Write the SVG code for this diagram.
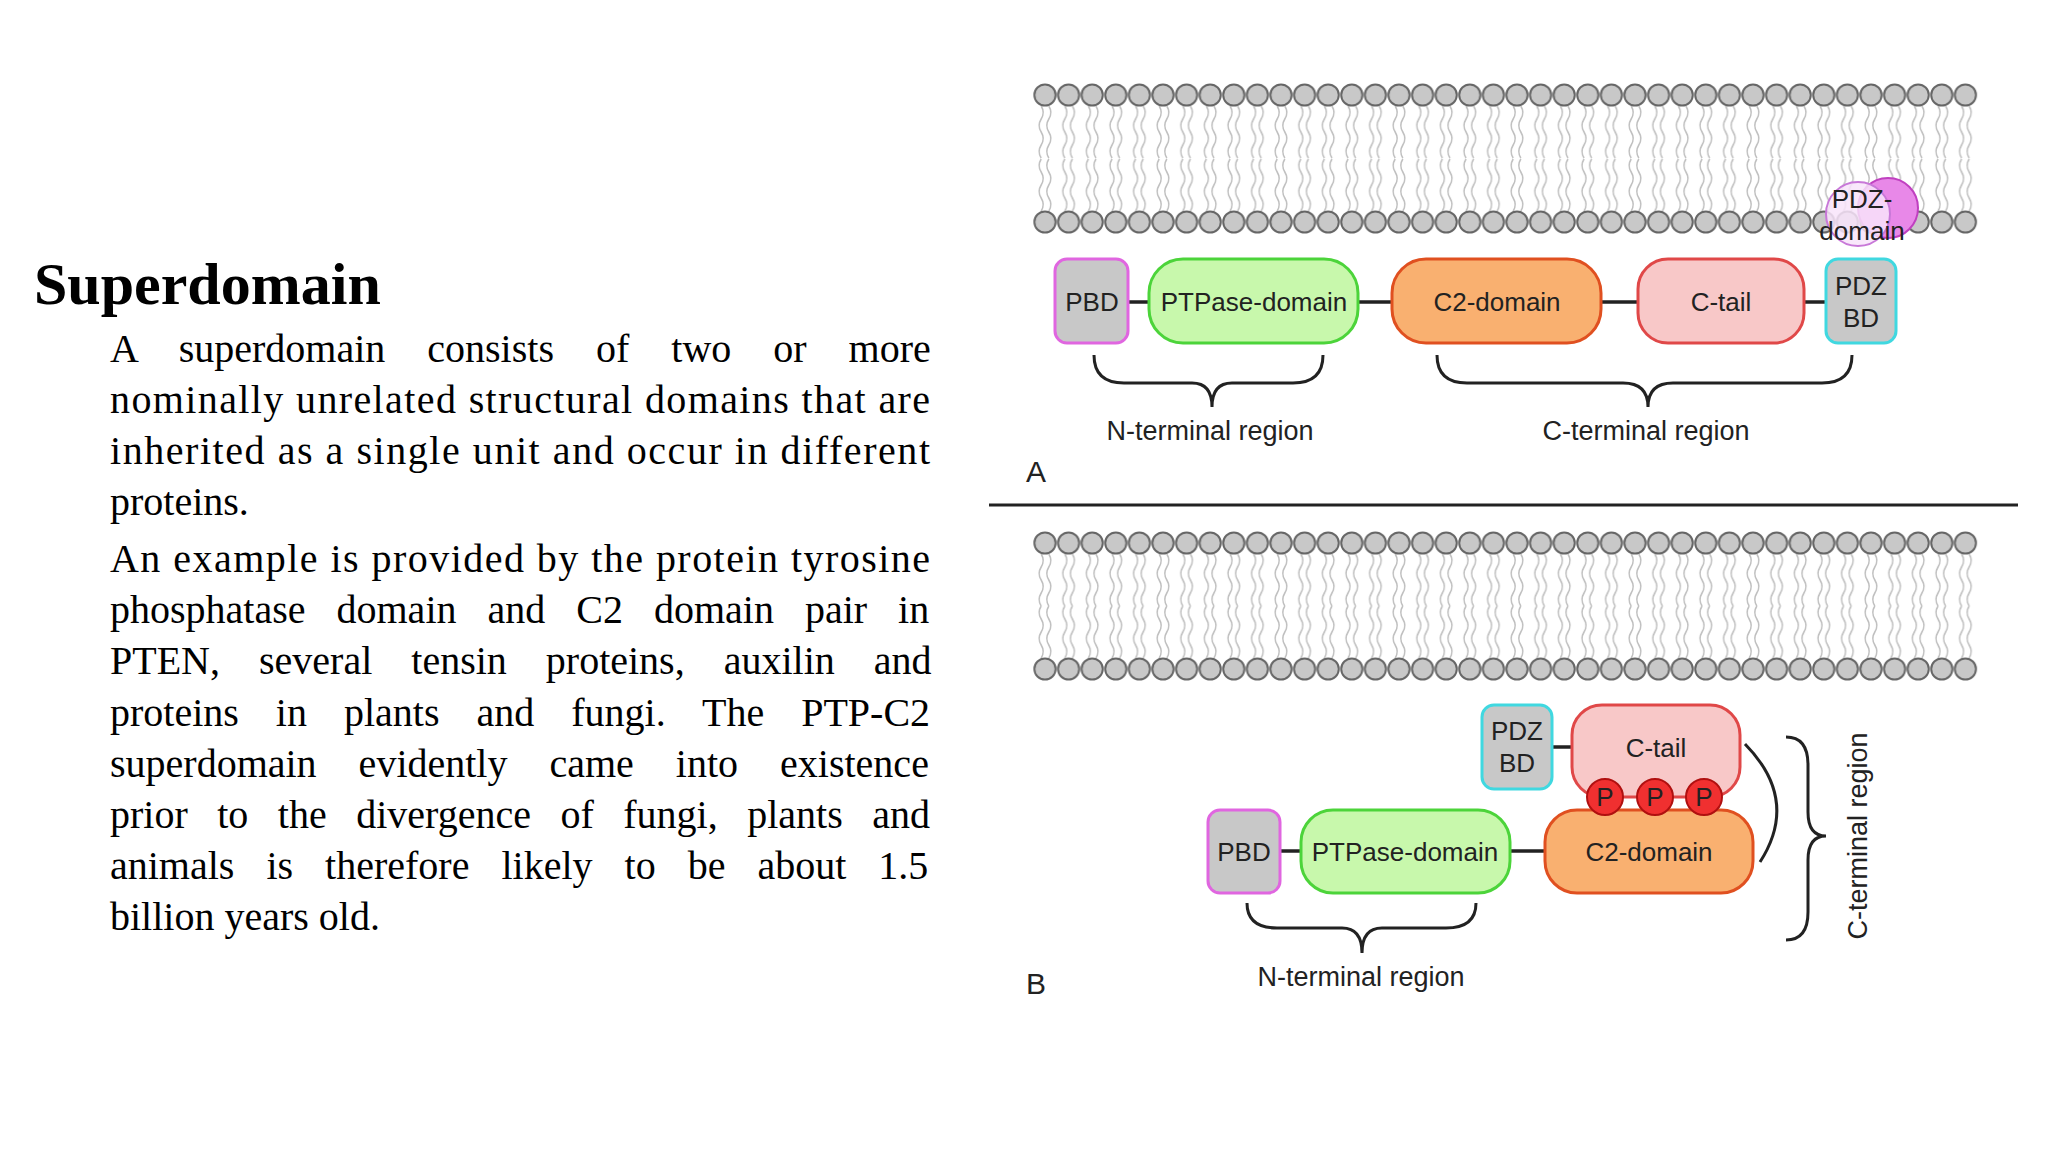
<svg xmlns="http://www.w3.org/2000/svg" width="2048" height="1152" viewBox="0 0 2048 1152">
<defs>
<style>
.body{font-family:"Liberation Serif","Times New Roman",serif;font-size:40px;fill:#000}
.lab{font-family:"Liberation Sans",Arial,sans-serif;font-size:26px;fill:#222;text-anchor:middle}
.reg{font-family:"Liberation Sans",Arial,sans-serif;font-size:27px;fill:#222;text-anchor:middle}
.brace{fill:none;stroke:#222;stroke-width:3}
.link{stroke:#222;stroke-width:3.5}
.gray{fill:#c8c8c8;stroke-width:3}
</style>
<pattern id="headsA" patternUnits="userSpaceOnUse" x="1033.2" y="0" width="23.6" height="1152">
<circle cx="11.8" cy="95" r="10.6" fill="#c8c8c8" stroke="#666" stroke-width="2"/>
<circle cx="11.8" cy="222" r="10.6" fill="#c8c8c8" stroke="#666" stroke-width="2"/>
<circle cx="11.8" cy="543" r="10.6" fill="#c8c8c8" stroke="#666" stroke-width="2"/>
<circle cx="11.8" cy="669" r="10.6" fill="#c8c8c8" stroke="#666" stroke-width="2"/>
</pattern>
<pattern id="tails" patternUnits="userSpaceOnUse" x="1033.2" y="0" width="23.6" height="1152">
<path d="M8,106 q4,6.5 0,13 t0,13 t0,13 t0,13 M15.6,106 q4,6.5 0,13 t0,13 t0,13 t0,13 M8,211 q4,-6.5 0,-13 t0,-13 t0,-13 t0,-13 M15.6,211 q4,-6.5 0,-13 t0,-13 t0,-13 t0,-13 M8,554 q4,6.5 0,13 t0,13 t0,13 t0,13 M15.6,554 q4,6.5 0,13 t0,13 t0,13 t0,13 M8,658 q4,-6.5 0,-13 t0,-13 t0,-13 t0,-13 M15.6,658 q4,-6.5 0,-13 t0,-13 t0,-13 t0,-13" fill="none" stroke="#bdbdbd" stroke-width="1.5"/>
</pattern>
</defs>
<rect width="2048" height="1152" fill="#fff"/>

<g id="text">
<text x="34" y="304" font-family="Liberation Serif,Times New Roman,serif" font-size="60" font-weight="bold">Superdomain</text>
<text class="body" x="110" y="362" word-spacing="32">A superdomain consists of two or more</text>
<text class="body" x="110" y="413" textLength="820" lengthAdjust="spacing">nominally unrelated structural domains that are</text>
<text class="body" x="110" y="464" textLength="820" lengthAdjust="spacing">inherited as a single unit and occur in different</text>
<text class="body" x="110" y="515">proteins.</text>
<text class="body" x="110" y="572" textLength="820" lengthAdjust="spacing">An example is provided by the protein tyrosine</text>
<text class="body" x="110" y="623" word-spacing="21">phosphatase domain and C2 domain pair in</text>
<text class="body" x="110" y="674" word-spacing="29">PTEN, several tensin proteins, auxilin and</text>
<text class="body" x="110" y="726" word-spacing="27">proteins in plants and fungi. The PTP-C2</text>
<text class="body" x="110" y="777" word-spacing="32">superdomain evidently came into existence</text>
<text class="body" x="110" y="828" word-spacing="19.5">prior to the divergence of fungi, plants and</text>
<text class="body" x="110" y="879" word-spacing="22">animals is therefore likely to be about 1.5</text>
<text class="body" x="110" y="930">billion years old.</text>
</g>

<g id="membranes">
<rect x="1033.2" y="106" width="944" height="105" fill="url(#tails)"/>
<rect x="1033.2" y="554" width="944" height="104" fill="url(#tails)"/>
<rect x="1033.2" y="82" width="944" height="26" fill="url(#headsA)"/>
<rect x="1033.2" y="209" width="944" height="26" fill="url(#headsA)"/>
<rect x="1033.2" y="530" width="944" height="26" fill="url(#headsA)"/>
<rect x="1033.2" y="656" width="944" height="26" fill="url(#headsA)"/>
</g>

<line x1="989" y1="505" x2="2018" y2="505" stroke="#222" stroke-width="3"/>

<g id="connectors">
<line class="link" x1="1128" y1="302" x2="1149" y2="302"/>
<line class="link" x1="1358" y1="302" x2="1392" y2="302"/>
<line class="link" x1="1601" y1="302" x2="1638" y2="302"/>
<line class="link" x1="1804" y1="302" x2="1826" y2="302"/>
<line class="link" x1="1280" y1="851" x2="1301" y2="851"/>
<line class="link" x1="1510" y1="851" x2="1545" y2="851"/>
<line class="link" x1="1552" y1="747" x2="1572" y2="747"/>
<path class="brace" d="M1745,744 Q1800,800 1760,862"/>
</g>

<g id="pdz-domain">
<circle cx="1888" cy="208" r="30" fill="#e888e8" stroke="#c040c0" stroke-width="2"/>
<circle cx="1858" cy="214" r="32" fill="#f8e4fa" stroke="#c878d8" stroke-width="2" fill-opacity="0.85"/>
<text class="lab" x="1862" y="208">PDZ-</text>
<text class="lab" x="1862" y="240">domain</text>
</g>

<g id="A-PBD"><rect class="gray" x="1055" y="259" width="73" height="84" rx="12" stroke="#e066e0"/><text class="lab" x="1092" y="311">PBD</text></g>
<g id="A-PTPase"><rect x="1149" y="259" width="209" height="84" rx="34" fill="#c8f8ac" stroke="#4cd43a" stroke-width="3"/><text class="lab" x="1254" y="311">PTPase-domain</text></g>
<g id="A-C2"><rect x="1392" y="259" width="209" height="84" rx="34" fill="#f9b070" stroke="#e05020" stroke-width="3"/><text class="lab" x="1497" y="311">C2-domain</text></g>
<g id="A-Ctail"><rect x="1638" y="259" width="166" height="84" rx="30" fill="#f8c8c8" stroke="#e04848" stroke-width="3"/><text class="lab" x="1721" y="311">C-tail</text></g>
<g id="A-PDZBD"><rect class="gray" x="1826" y="259" width="70" height="84" rx="12" stroke="#40d8e0"/><text class="lab" x="1861" y="295">PDZ</text><text class="lab" x="1861" y="327">BD</text></g>

<g id="A-braces">
<path class="brace" d="M1094,355 Q1094,383 1124,383 L1192,383 Q1212,383 1212,407 Q1212,383 1232,383 L1293,383 Q1323,383 1323,355"/>
<path class="brace" d="M1437,355 Q1437,383 1467,383 L1623,383 Q1648,383 1648,407 Q1648,383 1673,383 L1822,383 Q1852,383 1852,355"/>
<text class="reg" x="1210" y="440">N-terminal region</text>
<text class="reg" x="1646" y="440">C-terminal region</text>
<text x="1026" y="482" font-family="Liberation Sans,Arial,sans-serif" font-size="30" fill="#222">A</text>
</g>

<g id="B-PDZBD"><rect class="gray" x="1482" y="705" width="70" height="84" rx="12" stroke="#40d8e0"/><text class="lab" x="1517" y="740">PDZ</text><text class="lab" x="1517" y="772">BD</text></g>
<g id="B-Ctail"><rect x="1572" y="705" width="168" height="92" rx="30" fill="#f8c8c8" stroke="#e04848" stroke-width="3"/><text class="lab" x="1656" y="757">C-tail</text></g>
<g id="B-C2"><rect x="1545" y="810" width="208" height="83" rx="32" fill="#f9b070" stroke="#e05020" stroke-width="3"/><text class="lab" x="1649" y="861">C2-domain</text></g>
<g id="B-P">
<circle cx="1605" cy="797" r="18" fill="#f03030" stroke="#b01010" stroke-width="2"/><text class="lab" x="1605" y="806">P</text>
<circle cx="1655" cy="797" r="18" fill="#f03030" stroke="#b01010" stroke-width="2"/><text class="lab" x="1655" y="806">P</text>
<circle cx="1704" cy="797" r="18" fill="#f03030" stroke="#b01010" stroke-width="2"/><text class="lab" x="1704" y="806">P</text>
</g>
<g id="B-PTPase"><rect x="1301" y="810" width="209" height="83" rx="32" fill="#c8f8ac" stroke="#4cd43a" stroke-width="3"/><text class="lab" x="1405" y="861">PTPase-domain</text></g>
<g id="B-PBD"><rect class="gray" x="1208" y="810" width="72" height="83" rx="12" stroke="#e066e0"/><text class="lab" x="1244" y="861">PBD</text></g>

<g id="B-braces">
<path class="brace" d="M1247,903 Q1247,928 1277,928 L1342,928 Q1362,928 1362,953 Q1362,928 1382,928 L1446,928 Q1476,928 1476,903"/>
<path class="brace" d="M1786,737 Q1808,737 1808,765 L1808,812 Q1808,836 1826,836 Q1808,836 1808,860 L1808,912 Q1808,940 1786,940"/>
<text class="reg" x="1361" y="986">N-terminal region</text>
<text class="reg" transform="translate(1867,836) rotate(-90)">C-terminal region</text>
<text x="1026" y="994" font-family="Liberation Sans,Arial,sans-serif" font-size="30" fill="#222">B</text>
</g>
</svg>
